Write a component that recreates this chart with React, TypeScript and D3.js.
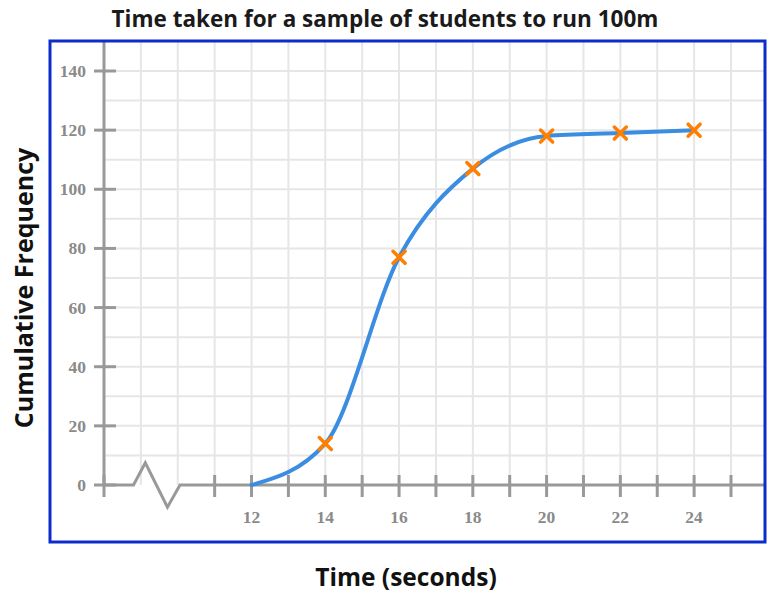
import React from "react";
import * as d3 from "d3";

// cumulative frequency data (upper class boundary, cumulative frequency)
const times = [12, 14, 16, 18, 20, 22, 24];
const cumFreq = [0, 14, 77, 107, 118, 119, 120];
// which points get a cross (the 12s start point has none)
const markedFrom = 1;

const yTicks = [0, 20, 40, 60, 80, 100, 120, 140];
const xTickLabels = [12, 14, 16, 18, 20, 22, 24];
// axis break zig-zag in data units (x, y)
const breakX = [8.8, 9.12, 9.72, 10.06];
const breakY = [0, 7.5, -7.5, 0];

const W = 768;
const H = 593;

const App: React.FC = () => {
  const x = d3.scaleLinear().domain([8, 25]).range([104, 731]);
  const y = d3.scaleLinear().domain([0, 140]).range([485, 71]);

  const frameLeft = 50, frameTop = 41, frameRight = 765, frameBottom = 542;
  const axisColor = "#999999";
  const gridColor = "#e6e6e6";

  const vGrid = d3.range(9, 26);
  const hGrid = d3.range(10, 150, 10);
  const xTickVals = [8, ...d3.range(11, 26)];

  const pts: [number, number][] = times.map((t, i) => [t, cumFreq[i]]);
  const line = d3
    .line<[number, number]>()
    .x((d) => x(d[0]))
    .y((d) => y(d[1]))
    .curve(d3.curveMonotoneX);

  const breakLine = d3
    .line<number>()
    .x((_, i) => x(breakX[i]))
    .y((_, i) => y(breakY[i]));

  const s = 6; // cross half-size

  return (
    <svg
      width={W}
      height={H}
      style={{ position: "absolute", left: 0, top: 0, background: "#fff" }}
    >
      <text
        x={385}
        y={27}
        textAnchor="middle"
        fontFamily="'Open Sans', sans-serif"
        fontWeight="bold"
        fontSize={22.5}
        fill="#1a1a1a"
      >
        Time taken for a sample of students to run 100m
      </text>

      {/* grid */}
      <g stroke={gridColor} strokeWidth={2}>
        {vGrid.map((v) => (
          <line key={"v" + v} x1={x(v)} x2={x(v)} y1={frameTop} y2={y(0)} />
        ))}
        {hGrid.map((v) => (
          <line key={"h" + v} x1={x(8)} x2={frameRight} y1={y(v)} y2={y(v)} />
        ))}
      </g>

      {/* y axis */}
      <g stroke={axisColor} strokeWidth={3}>
        <line x1={x(8)} x2={x(8)} y1={frameTop} y2={y(0)} />
        {yTicks.map((v) => (
          <line key={v} x1={x(8) - 10} x2={x(8) + 12} y1={y(v)} y2={y(v)} />
        ))}
      </g>
      <g
        fontFamily="'Liberation Serif', serif"
        fontWeight="bold"
        fontSize={17.5}
        fill="#8a8a8a"
        textAnchor="end"
      >
        {yTicks.map((v) => (
          <text key={v} x={86} y={y(v) + 6}>
            {v}
          </text>
        ))}
      </g>

      {/* x axis with break */}
      <g stroke={axisColor} strokeWidth={3} fill="none" strokeLinejoin="miter">
        <path
          d={
            `M${x(8)},${y(0)}L${x(breakX[0])},${y(0)}` +
            (breakLine(breakX) || "").replace(/^M/, "L") +
            `L${frameRight},${y(0)}`
          }
        />
        {xTickVals.map((v) => (
          <line key={v} x1={x(v)} x2={x(v)} y1={y(0) - 10} y2={y(0) + 12} />
        ))}
      </g>
      <g
        fontFamily="'Liberation Serif', serif"
        fontWeight="bold"
        fontSize={17.5}
        fill="#8a8a8a"
        textAnchor="middle"
      >
        {xTickLabels.map((v) => (
          <text key={v} x={x(v)} y={523}>
            {v}
          </text>
        ))}
      </g>

      {/* curve */}
      <path
        d={line(pts) || ""}
        fill="none"
        stroke="#3a8de0"
        strokeWidth={4}
        strokeLinecap="round"
      />

      {/* crosses */}
      <g stroke="#ff7f00" strokeWidth={3.5} strokeLinecap="round">
        {pts.slice(markedFrom).map((d) => (
          <g key={d[0]} transform={`translate(${x(d[0])},${y(d[1])})`}>
            <line x1={-s} y1={-s} x2={s} y2={s} />
            <line x1={-s} y1={s} x2={s} y2={-s} />
          </g>
        ))}
      </g>

      {/* frame */}
      <rect
        x={frameLeft}
        y={frameTop}
        width={frameRight - frameLeft}
        height={frameBottom - frameTop}
        fill="none"
        stroke="#0a2dcc"
        strokeWidth={3}
      />

      <text
        transform={`translate(33,${288}) rotate(-90)`}
        textAnchor="middle"
        fontFamily="'Open Sans', sans-serif"
        fontWeight="bold"
        fontSize={25}
        fill="#111"
      >
        Cumulative Frequency
      </text>
      <text
        x={406}
        y={586}
        textAnchor="middle"
        fontFamily="'Open Sans', sans-serif"
        fontWeight="bold"
        fontSize={24.5}
        fill="#111"
      >
        Time (seconds)
      </text>
    </svg>
  );
};

export default App;
